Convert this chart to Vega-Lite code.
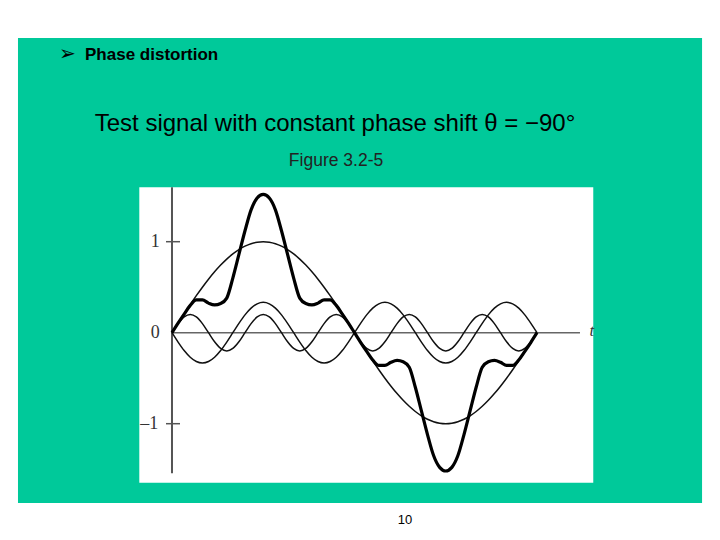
{
  "$schema": "https://vega.github.io/schema/vega-lite/v6.json",
  "width": 720,
  "height": 540,
  "autosize": {"type": "fit", "contains": "padding"},
  "padding": 0,
  "background": "white",
  "config": {"view": {"stroke": null}},
  "data": {"values": [
    {"t":0,"f1":0,"f3":0,"f5":0,"out":0},
    {"t":6,"f1":0.1045,"f3":-0.103,"f5":0.1,"out":0.105},
    {"t":12,"f1":0.2079,"f3":-0.1959,"f5":0.1732,"out":0.205},
    {"t":18,"f1":0.309,"f3":-0.2697,"f5":0.2,"out":0.3},
    {"t":24,"f1":0.4067,"f3":-0.317,"f5":0.1732,"out":0.36},
    {"t":30,"f1":0.5,"f3":-0.3333,"f5":0.1,"out":0.36},
    {"t":36,"f1":0.5878,"f3":-0.317,"f5":0,"out":0.325},
    {"t":42,"f1":0.6691,"f3":-0.2697,"f5":-0.1,"out":0.305},
    {"t":48,"f1":0.7431,"f3":-0.1959,"f5":-0.1732,"out":0.32},
    {"t":54,"f1":0.809,"f3":-0.103,"f5":-0.2,"out":0.38},
    {"t":60,"f1":0.866,"f3":0,"f5":-0.1732,"out":0.6},
    {"t":66,"f1":0.9135,"f3":0.103,"f5":-0.1,"out":0.86},
    {"t":72,"f1":0.9511,"f3":0.1959,"f5":0,"out":1.12},
    {"t":78,"f1":0.9781,"f3":0.2697,"f5":0.1,"out":1.35},
    {"t":84,"f1":0.9945,"f3":0.317,"f5":0.1732,"out":1.48},
    {"t":90,"f1":1,"f3":0.3333,"f5":0.2,"out":1.52},
    {"t":96,"f1":0.9945,"f3":0.317,"f5":0.1732,"out":1.48},
    {"t":102,"f1":0.9781,"f3":0.2697,"f5":0.1,"out":1.35},
    {"t":108,"f1":0.9511,"f3":0.1959,"f5":0,"out":1.12},
    {"t":114,"f1":0.9135,"f3":0.103,"f5":-0.1,"out":0.86},
    {"t":120,"f1":0.866,"f3":0,"f5":-0.1732,"out":0.6},
    {"t":126,"f1":0.809,"f3":-0.103,"f5":-0.2,"out":0.38},
    {"t":132,"f1":0.7431,"f3":-0.1959,"f5":-0.1732,"out":0.32},
    {"t":138,"f1":0.6691,"f3":-0.2697,"f5":-0.1,"out":0.305},
    {"t":144,"f1":0.5878,"f3":-0.317,"f5":0,"out":0.325},
    {"t":150,"f1":0.5,"f3":-0.3333,"f5":0.1,"out":0.36},
    {"t":156,"f1":0.4067,"f3":-0.317,"f5":0.1732,"out":0.36},
    {"t":162,"f1":0.309,"f3":-0.2697,"f5":0.2,"out":0.3},
    {"t":168,"f1":0.2079,"f3":-0.1959,"f5":0.1732,"out":0.205},
    {"t":174,"f1":0.1045,"f3":-0.103,"f5":0.1,"out":0.105},
    {"t":180,"f1":0,"f3":0,"f5":0,"out":0},
    {"t":186,"f1":-0.1045,"f3":0.103,"f5":-0.1,"out":-0.105},
    {"t":192,"f1":-0.2079,"f3":0.1959,"f5":-0.1732,"out":-0.205},
    {"t":198,"f1":-0.309,"f3":0.2697,"f5":-0.2,"out":-0.3},
    {"t":204,"f1":-0.4067,"f3":0.317,"f5":-0.1732,"out":-0.36},
    {"t":210,"f1":-0.5,"f3":0.3333,"f5":-0.1,"out":-0.36},
    {"t":216,"f1":-0.5878,"f3":0.317,"f5":0,"out":-0.325},
    {"t":222,"f1":-0.6691,"f3":0.2697,"f5":0.1,"out":-0.305},
    {"t":228,"f1":-0.7431,"f3":0.1959,"f5":0.1732,"out":-0.32},
    {"t":234,"f1":-0.809,"f3":0.103,"f5":0.2,"out":-0.38},
    {"t":240,"f1":-0.866,"f3":0,"f5":0.1732,"out":-0.6},
    {"t":246,"f1":-0.9135,"f3":-0.103,"f5":0.1,"out":-0.86},
    {"t":252,"f1":-0.9511,"f3":-0.1959,"f5":0,"out":-1.12},
    {"t":258,"f1":-0.9781,"f3":-0.2697,"f5":-0.1,"out":-1.35},
    {"t":264,"f1":-0.9945,"f3":-0.317,"f5":-0.1732,"out":-1.48},
    {"t":270,"f1":-1,"f3":-0.3333,"f5":-0.2,"out":-1.52},
    {"t":276,"f1":-0.9945,"f3":-0.317,"f5":-0.1732,"out":-1.48},
    {"t":282,"f1":-0.9781,"f3":-0.2697,"f5":-0.1,"out":-1.35},
    {"t":288,"f1":-0.9511,"f3":-0.1959,"f5":0,"out":-1.12},
    {"t":294,"f1":-0.9135,"f3":-0.103,"f5":0.1,"out":-0.86},
    {"t":300,"f1":-0.866,"f3":0,"f5":0.1732,"out":-0.6},
    {"t":306,"f1":-0.809,"f3":0.103,"f5":0.2,"out":-0.38},
    {"t":312,"f1":-0.7431,"f3":0.1959,"f5":0.1732,"out":-0.32},
    {"t":318,"f1":-0.6691,"f3":0.2697,"f5":0.1,"out":-0.305},
    {"t":324,"f1":-0.5878,"f3":0.317,"f5":0,"out":-0.325},
    {"t":330,"f1":-0.5,"f3":0.3333,"f5":-0.1,"out":-0.36},
    {"t":336,"f1":-0.4067,"f3":0.317,"f5":-0.1732,"out":-0.36},
    {"t":342,"f1":-0.309,"f3":0.2697,"f5":-0.2,"out":-0.3},
    {"t":348,"f1":-0.2079,"f3":0.1959,"f5":-0.1732,"out":-0.205},
    {"t":354,"f1":-0.1045,"f3":0.103,"f5":-0.1,"out":-0.105},
    {"t":360,"f1":0,"f3":0,"f5":0,"out":0}
  ]},
  "layer": [
    {
      "data": {"values": [{}]},
      "mark": {"type": "rect", "color": "#00C99A"},
      "encoding": {
        "x": {"datum": -151.9, "type": "quantitative", "scale": {"domain": [-169.64, 540.5], "nice": false, "zero": false}, "axis": null},
        "x2": {"datum": 522.8},
        "y": {"datum": 3.238, "type": "quantitative", "scale": {"domain": [-2.278, 3.656], "nice": false, "zero": false}, "axis": null},
        "y2": {"datum": -1.871}
      }
    },
    {
      "data": {"values": [{}]},
      "mark": {"type": "rect", "color": "white"},
      "encoding": {
        "x": {"datum": -32.25, "type": "quantitative"},
        "x2": {"datum": 415.5},
        "y": {"datum": 1.598, "type": "quantitative"},
        "y2": {"datum": -1.648}
      }
    },
    {
      "data": {"values": [{}]},
      "mark": {"type": "rule", "color": "#555555", "strokeWidth": 2},
      "encoding": {
        "x": {"datum": 0, "type": "quantitative"},
        "y": {"datum": 1.598, "type": "quantitative"},
        "y2": {"datum": -1.545}
      }
    },
    {
      "data": {"values": [{}]},
      "mark": {"type": "rule", "color": "#666666", "strokeWidth": 1.5},
      "encoding": {
        "x": {"datum": 0, "type": "quantitative"},
        "x2": {"datum": 402.4},
        "y": {"datum": 0, "type": "quantitative"}
      }
    },
    {
      "data": {"values": [{}]},
      "mark": {"type": "rule", "color": "#555555", "strokeWidth": 1.5},
      "encoding": {
        "x": {"datum": -5.9, "type": "quantitative"},
        "x2": {"datum": 7.9},
        "y": {"datum": 1, "type": "quantitative"}
      }
    },
    {
      "data": {"values": [{}]},
      "mark": {"type": "rule", "color": "#555555", "strokeWidth": 1.5},
      "encoding": {
        "x": {"datum": -5.9, "type": "quantitative"},
        "x2": {"datum": 7.9},
        "y": {"datum": -1, "type": "quantitative"}
      }
    },
    {
      "mark": {"type": "line", "color": "#111111", "strokeWidth": 1.5, "interpolate": "monotone"},
      "encoding": {
        "x": {"field": "t", "type": "quantitative"},
        "y": {"field": "f1", "type": "quantitative"}
      }
    },
    {
      "mark": {"type": "line", "color": "#111111", "strokeWidth": 1.5, "interpolate": "monotone"},
      "encoding": {
        "x": {"field": "t", "type": "quantitative"},
        "y": {"field": "f3", "type": "quantitative"}
      }
    },
    {
      "mark": {"type": "line", "color": "#111111", "strokeWidth": 1.5, "interpolate": "monotone"},
      "encoding": {
        "x": {"field": "t", "type": "quantitative"},
        "y": {"field": "f5", "type": "quantitative"}
      }
    },
    {
      "mark": {"type": "line", "color": "#000000", "strokeWidth": 3.2, "interpolate": "monotone"},
      "encoding": {
        "x": {"field": "t", "type": "quantitative"},
        "y": {"field": "out", "type": "quantitative"}
      }
    },
    {
      "data": {"values": [{}]},
      "mark": {"type": "text", "text": "1", "font": "Liberation Serif", "fontSize": 18, "color": "#333333", "align": "right", "baseline": "middle"},
      "encoding": {
        "x": {"datum": -12, "type": "quantitative"},
        "y": {"datum": 1, "type": "quantitative"}
      }
    },
    {
      "data": {"values": [{}]},
      "mark": {"type": "text", "text": "0", "font": "Liberation Serif", "fontSize": 18, "color": "#333333", "align": "right", "baseline": "middle"},
      "encoding": {
        "x": {"datum": -12, "type": "quantitative"},
        "y": {"datum": 0, "type": "quantitative"}
      }
    },
    {
      "data": {"values": [{}]},
      "mark": {"type": "text", "text": "–1", "font": "Liberation Serif", "fontSize": 18, "color": "#333333", "align": "right", "baseline": "middle"},
      "encoding": {
        "x": {"datum": -13.5, "type": "quantitative"},
        "y": {"datum": -1, "type": "quantitative"}
      }
    },
    {
      "data": {"values": [{}]},
      "mark": {"type": "text", "text": "t", "font": "Liberation Serif", "fontStyle": "italic", "fontSize": 17, "color": "#333333", "align": "center", "baseline": "middle"},
      "encoding": {
        "x": {"datum": 414, "type": "quantitative"},
        "y": {"datum": 0.02, "type": "quantitative"}
      }
    },
    {
      "data": {"values": [{}]},
      "mark": {"type": "text", "text": "➢", "font": "DejaVu Sans", "fontSize": 20, "color": "#000000", "align": "center", "baseline": "middle"},
      "encoding": {
        "x": {"datum": -103.1, "type": "quantitative"},
        "y": {"datum": 3.063, "type": "quantitative"}
      }
    },
    {
      "data": {"values": [{}]},
      "mark": {"type": "text", "text": "Phase distortion", "font": "Liberation Sans", "fontWeight": "bold", "fontSize": 17, "color": "#000000", "align": "left", "baseline": "middle"},
      "encoding": {
        "x": {"datum": -85.8, "type": "quantitative"},
        "y": {"datum": 3.05, "type": "quantitative"}
      }
    },
    {
      "data": {"values": [{}]},
      "mark": {"type": "text", "text": "Test signal with constant phase shift θ = −90°", "font": "Liberation Sans", "fontSize": 24, "color": "#000000", "align": "center", "baseline": "middle"},
      "encoding": {
        "x": {"datum": 160.8, "type": "quantitative"},
        "y": {"datum": 2.29, "type": "quantitative"}
      }
    },
    {
      "data": {"values": [{}]},
      "mark": {"type": "text", "text": "Figure 3.2-5", "font": "Liberation Sans", "fontSize": 17.5, "color": "#222222", "align": "center", "baseline": "middle"},
      "encoding": {
        "x": {"datum": 161.8, "type": "quantitative"},
        "y": {"datum": 1.89, "type": "quantitative"}
      }
    },
    {
      "data": {"values": [{}]},
      "mark": {"type": "text", "text": "10", "font": "Liberation Sans", "fontSize": 13, "color": "#000000", "align": "center", "baseline": "middle"},
      "encoding": {
        "x": {"datum": 229.8, "type": "quantitative"},
        "y": {"datum": -2.058, "type": "quantitative"}
      }
    }
  ]
}
